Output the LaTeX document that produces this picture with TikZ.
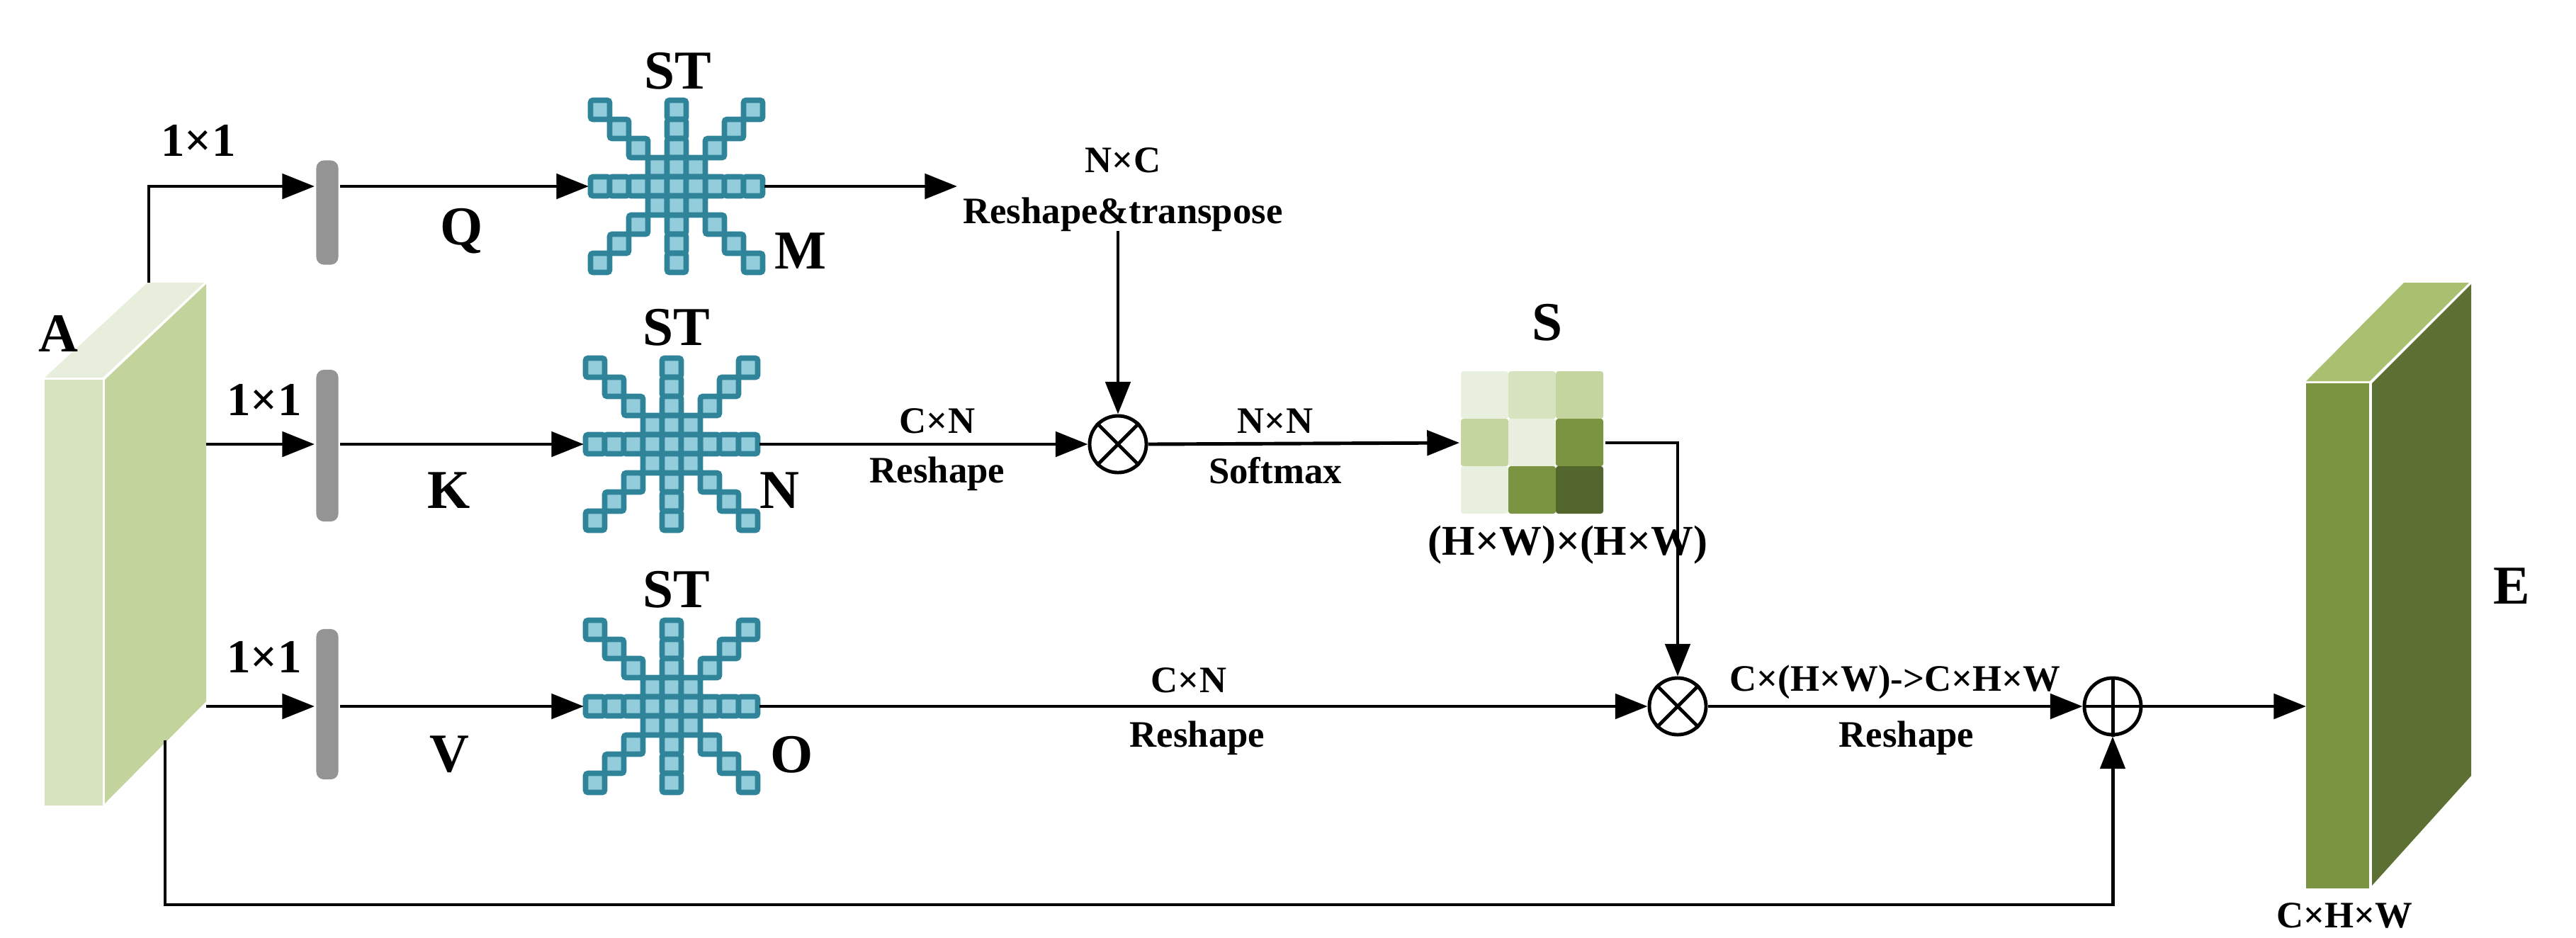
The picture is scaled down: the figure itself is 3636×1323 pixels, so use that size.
\documentclass[tikz,border=0pt]{standalone}
\usepackage{fontspec}
\setmainfont{Liberation Serif}
\usetikzlibrary{arrows.meta,calc}

\definecolor{cellfill}{HTML}{93CCDB}
\definecolor{celledge}{HTML}{2F8499}
\definecolor{afront}{HTML}{D7E3BF}
\definecolor{aside}{HTML}{C2D39B}
\definecolor{atop}{HTML}{E8EEDC}
\definecolor{efront}{HTML}{7A9441}
\definecolor{eside}{HTML}{5D7033}
\definecolor{etop}{HTML}{A8C070}
\definecolor{sa}{HTML}{E9F0DF}
\definecolor{sb}{HTML}{D6E3BE}
\definecolor{sc}{HTML}{C4D5A0}
\definecolor{sd}{HTML}{7A9441}
\definecolor{se}{HTML}{52662D}

% one ST block: cells around a named centre
\newcommand{\stcells}[1]{%
  \foreach \i/\j in {-4/0,-3/0,-2/0,2/0,3/0,4/0,0/-4,0/-3,0/-2,0/2,0/3,0/4,
    -1/-1,0/-1,1/-1,-1/0,0/0,1/0,-1/1,0/1,1/1,
    -2/-2,-3/-3,-4/-4,2/2,3/3,4/4,-2/2,-3/3,-4/4,2/-2,3/-3,4/-4}
  \draw[fill=cellfill,draw=celledge,line width=2.2pt,rounded corners=1pt]
    ($(#1)+(\i*27-13.5,\j*27-13.5)$) rectangle +(27,27);}

\begin{document}
\begin{tikzpicture}[x=0.01cm,y=-0.01cm,
  line width=1.4pt,>={Triangle[length=13pt,width=10pt]},
  big/.style={font=\fontsize{22}{24}\selectfont\bfseries},
  mid/.style={font=\fontsize{19}{21}\selectfont\bfseries},
  small/.style={font=\fontsize{15}{17}\selectfont\bfseries},
  bar/.style={fill=black!42,rounded corners=3pt,minimum width=0.31cm,inner sep=0pt},
  st/.style={minimum size=2.43cm,inner sep=0pt},
  op/.style={circle,draw,line width=1.4pt,minimum size=0.8cm,inner sep=0pt}]
\useasboundingbox (0,0) rectangle (3636,1323);

% Input block A
\fill[afront] (63,536) rectangle (145,1137);
\fill[aside] (148,536) -- (291,401) -- (291,990) -- (148,1134) -- cycle;
\fill[atop] (63,533) -- (208,399) -- (288,399) -- (145,533) -- cycle;
\node[big] (A) at (82,471) {A};
\coordinate (aQ) at (210,399);
\coordinate (aK) at (291,627);
\coordinate (aV) at (291,997);
\coordinate (aB) at (233,1045);

% 1x1 convolutions
\node[bar,minimum height=1.47cm] (barQ) at (462,300) {};
\node[bar,minimum height=2.14cm] (barK) at (462,629) {};
\node[bar,minimum height=2.12cm] (barV) at (462,994) {};
\node[mid] at (280,198) {1×1};
\node[mid] at (373,564) {1×1};
\node[mid] at (373,927) {1×1};
\node[big] at (652,326) {Q};
\node[big] at (634,692) {K};
\node[big] at (634,1065) {V};

% ST blocks
\node[st] (stQ) at (955,263) {};
\node[st] (stK) at (948,627) {};
\node[st] (stV) at (948,997) {};
\stcells{stQ}
\stcells{stK}
\stcells{stV}
\node[big] at (957,100) {ST};
\node[big] at (955,462) {ST};
\node[big] at (955,832) {ST};
\node[big] at (1130,354) {M};
\node[big] at (1100,692) {N};
\node[big] at (1118,1065) {O};

% operators
\node[op] (mul1) at (1578,627) {};
\node[op] (mul2) at (2368,997) {};
\node[op] (add) at (2982,997) {};
\draw (mul1.north west) -- (mul1.south east) (mul1.north east) -- (mul1.south west);
\draw (mul2.north west) -- (mul2.south east) (mul2.north east) -- (mul2.south west);
\draw (add.north) -- (add.south) (add.west) -- (add.east);

% attention map S
\foreach \c [count=\n from 0] in {sa,sb,sc,sc,sa,sd,sa,sd,se}
  \fill[\c,rounded corners=1pt] ({2062+mod(\n,3)*67},{524+int(\n/3)*67}) rectangle +(67,67);
\node[minimum size=2.01cm,inner sep=0pt] (S) at (2163,625) {};
\node[big] at (2184,455) {S};
\node[font=\fontsize{17}{19}\selectfont\bfseries] at (2213,769) {(H×W)×(H×W)};

% output block E
\fill[efront] (3255,541) rectangle (3344,1254);
\fill[eside] (3348,541) -- (3488,401) -- (3488,1095) -- (3348,1250) -- cycle;
\fill[etop] (3255,538) -- (3393,399) -- (3485,399) -- (3345,538) -- cycle;
\coordinate (eIn) at (3255,997);
\node[big] at (3545,827) {E};
\node[small] at (3309,1292) {C×H×W};

% connections
\coordinate (qEnd) at (1351,263);
\coordinate (tpTop) at (1578,326);
\draw[->] (aQ) |- (barQ.west |- 0,263);
\draw[->] (aK) -- (barK.west |- aK);
\draw[->] (aV) -- (barV.west |- aV);
\draw[->] (barQ.east |- 0,263) -- (stQ.west);
\draw[->] (barK.east |- aK) -- (stK.west);
\draw[->] (barV.east |- aV) -- (stV.west);
\draw[->] (stQ.east) -- (qEnd);
\draw[->] (tpTop) -- (mul1.north);
\draw[->] (stK.east) -- (mul1.west);
\draw[->] (mul1.east) -- (S.west);
\draw[->] (S.east) -| (mul2.north);
\draw[->] (stV.east) -- (mul2.west);
\draw[->] (mul2.east) -- (add.west);
\draw[->] (add.east) -- (eIn);
\draw[->] (aB) |- (1900,1277) -| (add.south);

% labels on connections
\node[small] at (1585,226) {N×C};
\node[small] at (1585,303) {Reshape\&transpose};
\node[small] at (1323,594) {C×N};
\node[small] at (1323,669) {Reshape};
\node[small] at (1800,594) {N×N};
\node[small] at (1800,664) {Softmax};
\node[small] at (1678,960) {C×N};
\node[small] at (1690,1042) {Reshape};
\node[small] at (2675,963) {C×(H×W)->C×H×W};
\node[small] at (2691,1042) {Reshape};
\end{tikzpicture}
\end{document}
